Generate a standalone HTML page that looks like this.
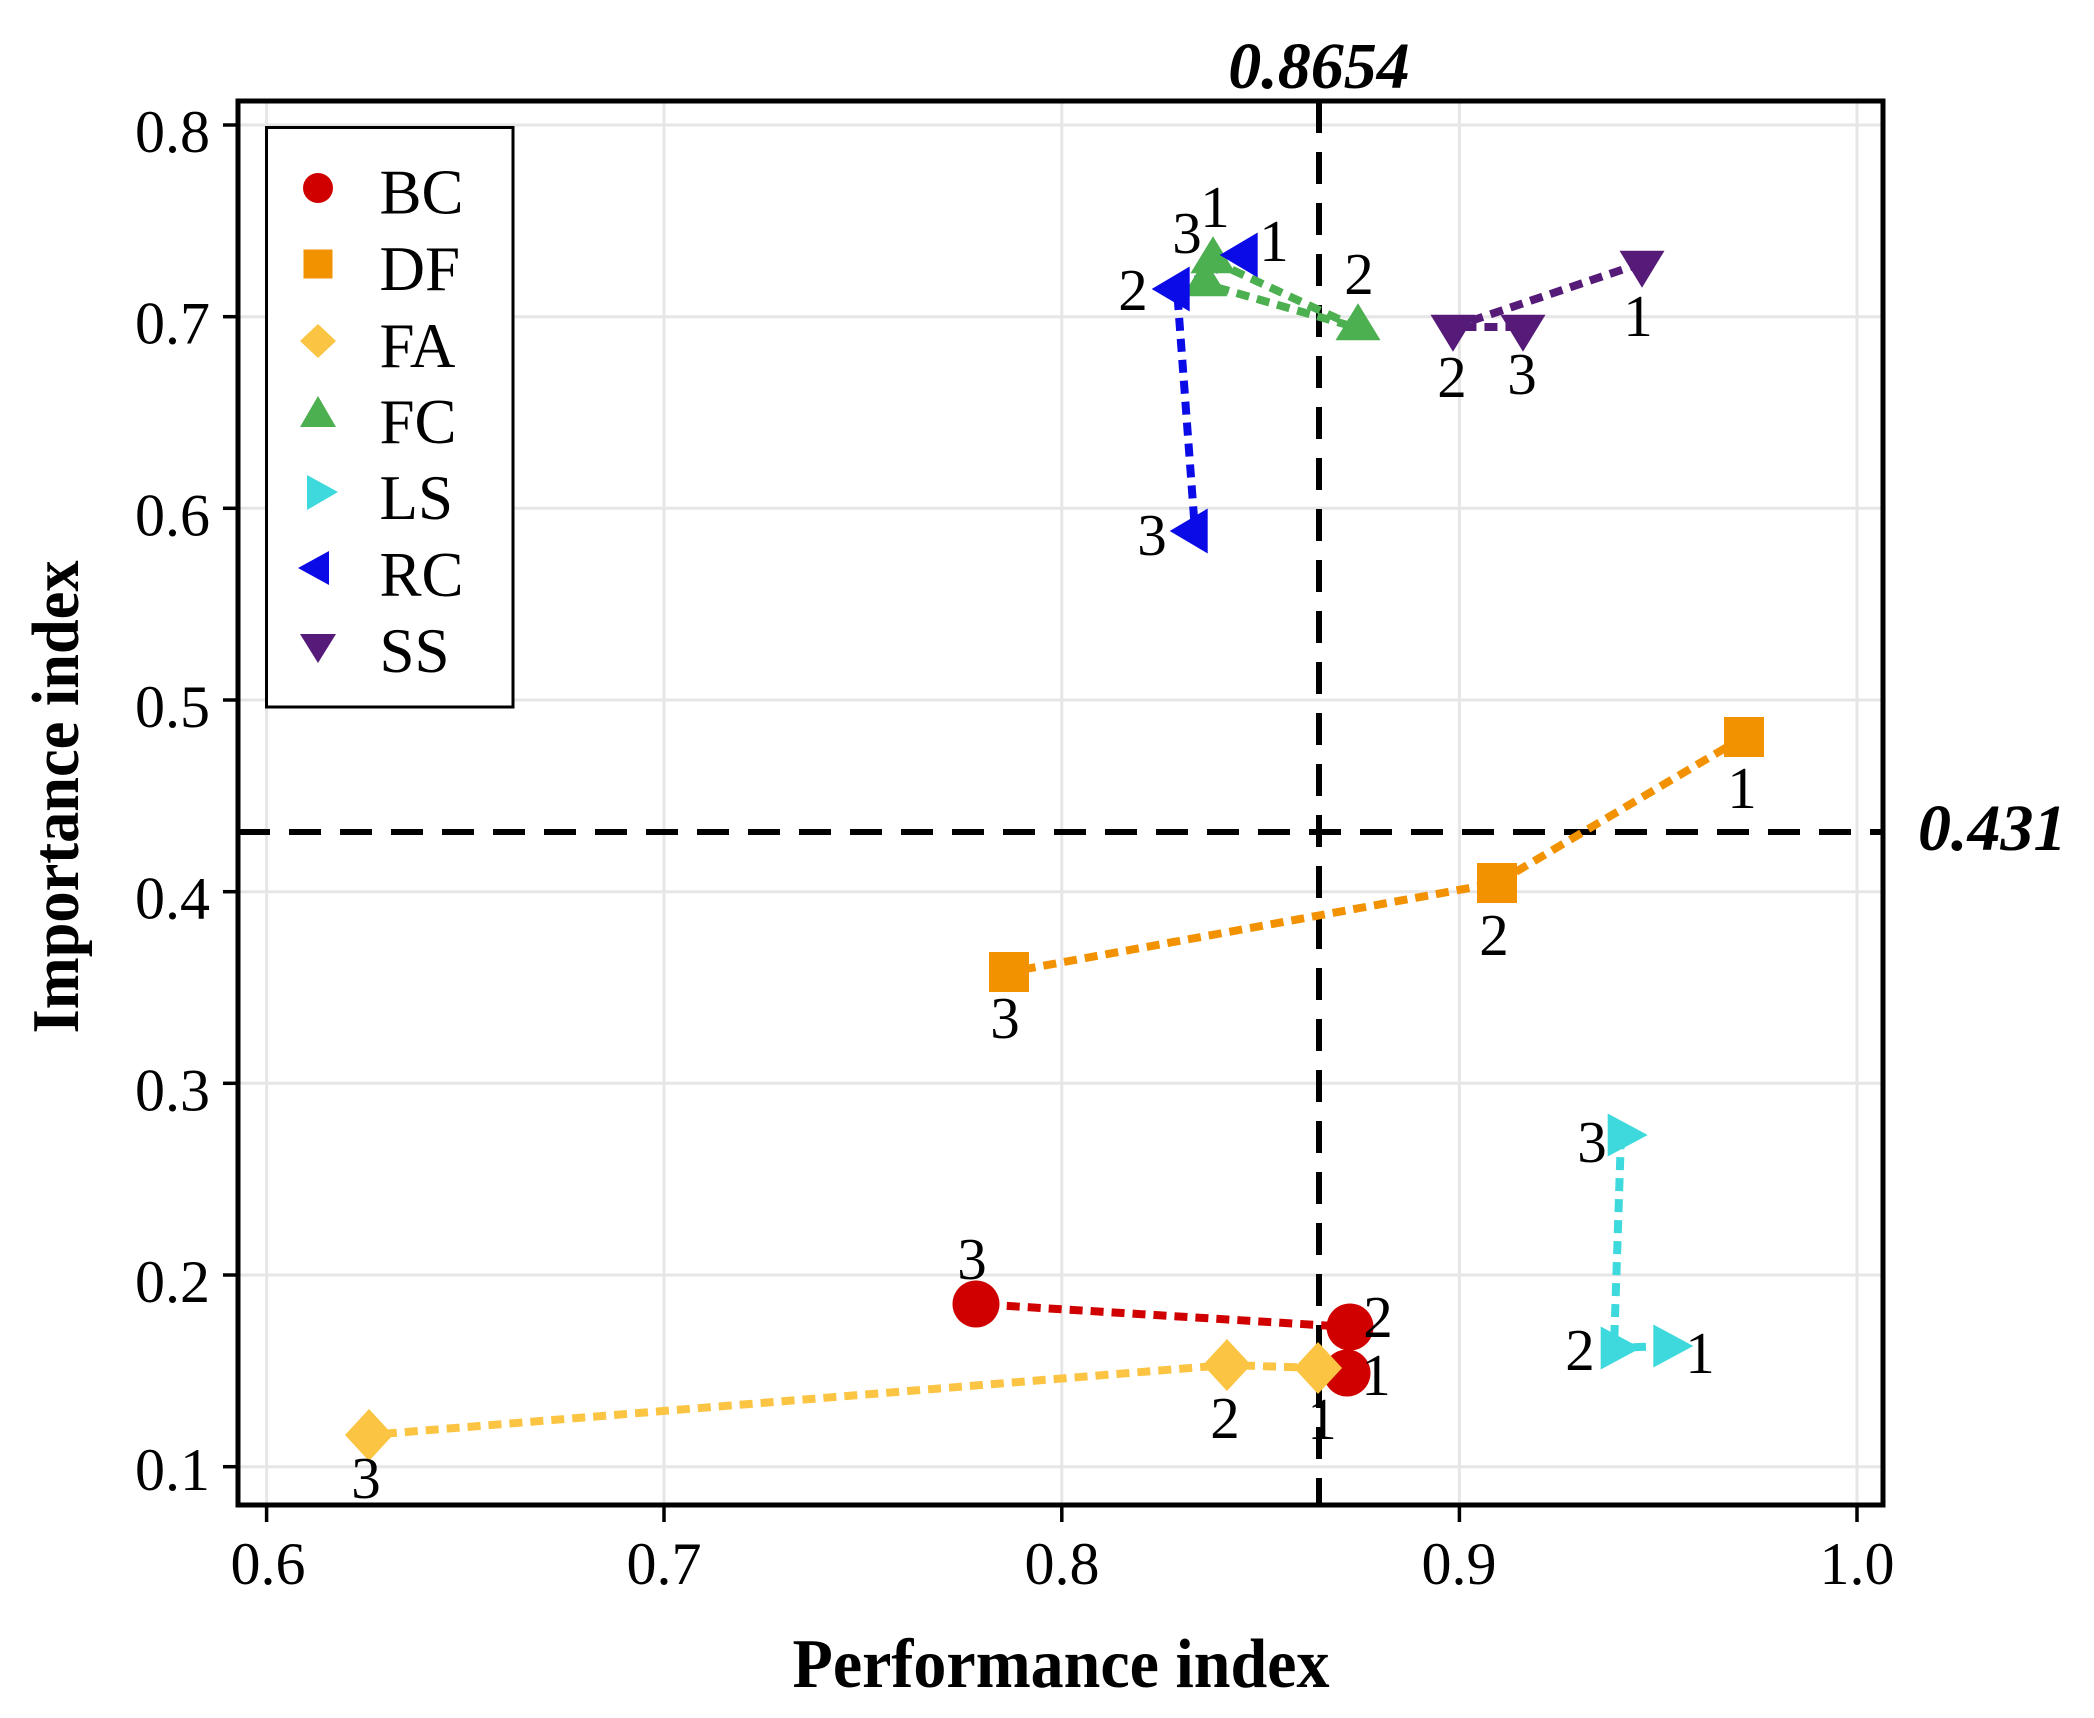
<!DOCTYPE html>
<html><head><meta charset="utf-8"><style>
html,body{margin:0;padding:0;background:#fff;}
svg{display:block;}
text{font-family:"Liberation Serif","Times New Roman",serif;fill:#000;}
</style></head><body>
<svg width="2094" height="1718" viewBox="0 0 2094 1718" xmlns="http://www.w3.org/2000/svg">
<rect x="0" y="0" width="2094" height="1718" fill="#fff"/>
<!-- gridlines -->
<g stroke="#e6e6e6" stroke-width="3">
<line x1="266.6" y1="101" x2="266.6" y2="1505"/>
<line x1="664" y1="101" x2="664" y2="1505"/>
<line x1="1061.8" y1="101" x2="1061.8" y2="1505"/>
<line x1="1459.4" y1="101" x2="1459.4" y2="1505"/>
<line x1="1857" y1="101" x2="1857" y2="1505"/>
<line x1="238" y1="125" x2="1883" y2="125"/>
<line x1="238" y1="316.7" x2="1883" y2="316.7"/>
<line x1="238" y1="508.3" x2="1883" y2="508.3"/>
<line x1="238" y1="700" x2="1883" y2="700"/>
<line x1="238" y1="891.7" x2="1883" y2="891.7"/>
<line x1="238" y1="1083.3" x2="1883" y2="1083.3"/>
<line x1="238" y1="1275" x2="1883" y2="1275"/>
<line x1="238" y1="1466.7" x2="1883" y2="1466.7"/>
</g>
<!-- reference dashed lines -->
<g stroke="#000" stroke-width="6" stroke-dasharray="32 19" fill="none">
<line x1="1319" y1="101" x2="1319" y2="1505"/>
<line x1="238" y1="832" x2="1883" y2="832"/>
</g>
<!-- series lines -->
<g fill="none" stroke-width="8" stroke-dasharray="13 8">
<polyline stroke="#d00000" points="1347,1374 1350,1327 976,1304"/>
<polyline stroke="#f39200" points="1744,737 1497,883 1009,972"/>
<polyline stroke="#fbc443" points="1318,1368 1227,1365 369,1435"/>
<polyline stroke="#4caf50" points="1213,261 1358,328 1205,284"/>
<polyline stroke="#3dd9dc" points="1667,1346 1614,1348 1621,1135"/>
<polyline stroke="#0b0be8" points="1245,255 1177,289 1195,531"/>
<polyline stroke="#561a78" points="1642,263 1453,327 1523,327"/>
</g>
<!-- markers -->
<g fill="#d00000">
<circle cx="976" cy="1304" r="23.5"/>
<circle cx="1350" cy="1327" r="23.5"/>
<circle cx="1347" cy="1373" r="23.5"/>
</g>
<g fill="#f39200">
<rect x="1724" y="717" width="40" height="40"/>
<rect x="1477" y="863" width="40" height="40"/>
<rect x="989" y="952" width="40" height="40"/>
</g>
<g fill="#fbc443">
<polygon points="1318,1342 1342,1368 1318,1394 1294,1368"/>
<polygon points="1227,1339 1251,1365 1227,1391 1203,1365"/>
<polygon points="369,1409 393,1435 369,1461 345,1435"/>
</g>
<g fill="#4caf50">
<polygon points="1205,259.3 1227.5,296.3 1182.5,296.3"/>
<polygon points="1213,236.3 1235.5,273.3 1190.5,273.3"/>
<polygon points="1358,303.3 1380.5,340.3 1335.5,340.3"/>
</g>
<g fill="#3dd9dc">
<polygon points="1607.7,1113.5 1647.7,1135 1607.7,1156.5"/>
<polygon points="1600.7,1326.5 1640.7,1348 1600.7,1369.5"/>
<polygon points="1653.3,1324.5 1693.3,1346 1653.3,1367.5"/>
</g>
<g fill="#0b0be8">
<polygon points="1219.7,255 1257.7,232.5 1257.7,277.5"/>
<polygon points="1151.7,289 1189.7,266.5 1189.7,311.5"/>
<polygon points="1169.7,531 1207.7,508.5 1207.7,553.5"/>
</g>
<g fill="#561a78">
<polygon points="1619.5,250.7 1664.5,250.7 1642,287.7"/>
<polygon points="1430.5,314.7 1475.5,314.7 1453,351.7"/>
<polygon points="1500.5,314.7 1545.5,314.7 1523,351.7"/>
</g>
<!-- point labels -->
<g font-size="59" text-anchor="middle">
<text x="972" y="1279">3</text>
<text x="1378" y="1337">2</text>
<text x="1376" y="1395">1</text>
<text x="1225" y="1438">2</text>
<text x="1322" y="1439">1</text>
<text x="366" y="1498">3</text>
<text x="1742" y="808">1</text>
<text x="1494" y="955">2</text>
<text x="1005" y="1038">3</text>
<text x="1592" y="1162">3</text>
<text x="1580" y="1370">2</text>
<text x="1700" y="1373">1</text>
<text x="1452" y="397">2</text>
<text x="1522" y="394">3</text>
<text x="1638" y="336">1</text>
<text x="1187" y="253">3</text>
<text x="1215" y="227">1</text>
<text x="1274" y="261">1</text>
<text x="1133" y="310">2</text>
<text x="1359" y="294">2</text>
<text x="1152" y="555">3</text>
</g>
<!-- axes box -->
<rect x="238" y="101" width="1645" height="1404" fill="none" stroke="#000" stroke-width="5"/>
<!-- ticks -->
<g stroke="#000" stroke-width="3.5">
<line x1="223" y1="125" x2="238" y2="125"/>
<line x1="223" y1="316.7" x2="238" y2="316.7"/>
<line x1="223" y1="508.3" x2="238" y2="508.3"/>
<line x1="223" y1="700" x2="238" y2="700"/>
<line x1="223" y1="891.7" x2="238" y2="891.7"/>
<line x1="223" y1="1083.3" x2="238" y2="1083.3"/>
<line x1="223" y1="1275" x2="238" y2="1275"/>
<line x1="223" y1="1466.7" x2="238" y2="1466.7"/>
<line x1="266.6" y1="1505" x2="266.6" y2="1522"/>
<line x1="664" y1="1505" x2="664" y2="1522"/>
<line x1="1061.8" y1="1505" x2="1061.8" y2="1522"/>
<line x1="1459.4" y1="1505" x2="1459.4" y2="1522"/>
<line x1="1857" y1="1505" x2="1857" y2="1522"/>
</g>
<!-- tick labels -->
<g font-size="60" text-anchor="end">
<text x="210" y="152">0.8</text>
<text x="210" y="343.7">0.7</text>
<text x="210" y="535.3">0.6</text>
<text x="210" y="727">0.5</text>
<text x="210" y="918.7">0.4</text>
<text x="210" y="1110.3">0.3</text>
<text x="210" y="1302">0.2</text>
<text x="210" y="1490">0.1</text>
</g>
<g font-size="60" text-anchor="middle">
<text x="268" y="1584">0.6</text>
<text x="664" y="1584">0.7</text>
<text x="1062" y="1584">0.8</text>
<text x="1459" y="1584">0.9</text>
<text x="1857" y="1584">1.0</text>
</g>
<!-- reference labels -->
<text x="1319" y="88" font-size="66" font-weight="bold" font-style="italic" text-anchor="middle">0.8654</text>
<text x="1918" y="850" font-size="66" font-weight="bold" font-style="italic">0.431</text>
<!-- axis titles -->
<text transform="translate(1061,1687) scale(1,1.06)" font-size="66" font-weight="bold" text-anchor="middle">Performance index</text>
<text transform="translate(78,797) rotate(-90) scale(1,1.04)" font-size="64" font-weight="bold" text-anchor="middle" textLength="473" lengthAdjust="spacingAndGlyphs">Importance index</text>
<!-- legend -->
<rect x="266.5" y="127.5" width="246.5" height="579.5" fill="#fff" stroke="#000" stroke-width="3"/>
<circle cx="318" cy="188" r="15" fill="#d00000"/>
<rect x="303.5" y="249.5" width="29" height="29" fill="#f39200"/>
<polygon points="318,324 336,341 318,358 300,341" fill="#fbc443"/>
<polygon points="318,396 336,427 300,427" fill="#4caf50"/>
<polygon points="307,475 338,492 307,510" fill="#3dd9dc"/>
<polygon points="298,568 329,551 329,585" fill="#0b0be8"/>
<polygon points="300,634 336,634 318,663" fill="#561a78"/>
<g font-size="63">
<text x="379.5" y="213.5">BC</text>
<text x="379.5" y="290">DF</text>
<text x="379.5" y="367">FA</text>
<text x="379.5" y="443">FC</text>
<text x="379.5" y="519">LS</text>
<text x="379.5" y="596">RC</text>
<text x="379.5" y="672">SS</text>
</g>
</svg>
</body></html>
